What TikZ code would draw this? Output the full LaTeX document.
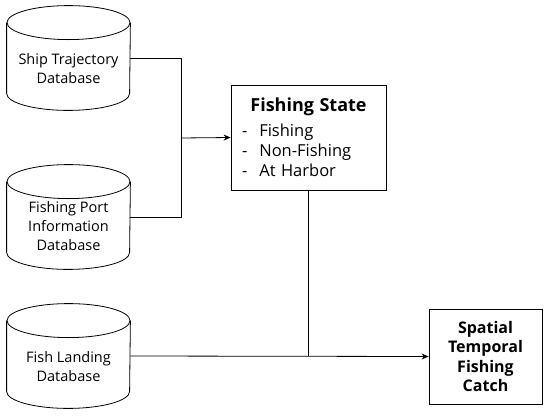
\documentclass[tikz,border=0pt]{standalone}
\usepackage{fontspec}
\setmainfont{Open Sans}
\usetikzlibrary{arrows.meta}

\begin{document}
\begin{tikzpicture}[x=1pt,y=-1pt,>={Stealth[length=7pt,width=6pt]},line width=0.8pt,
    db/.style={minimum width=123pt,minimum height=104pt,inner sep=0pt},
    dbtext/.style={align=center,font=\fontsize{14.5}{19}\selectfont},
    box/.style={draw,rectangle,inner sep=0pt}]
    \useasboundingbox (0,0) rectangle (550,418);
    % databases
    \node[db] (ship) at (68.5,58) {};
    \node[dbtext] (shiptext) at (68.5,69) {Ship Trajectory\\Database};
    \node[db] (port) at (68.5,217) {};
    \node[dbtext] (porttext) at (68.5,226.5) {Fishing Port\\Information\\Database};
    \node[db] (landing) at (68.5,356) {};
    \node[dbtext] (landingtext) at (68.5,366.5) {Fish Landing\\Database};
    \foreach \n in {ship,port,landing} {
        \draw ([yshift=-17pt]\n.north) ellipse[x radius=61.5pt,y radius=17pt];
        \draw ([yshift=-17pt]\n.north west) -- ([yshift=17pt]\n.south west)
            arc[start angle=180,end angle=360,x radius=61.5pt,y radius=17pt]
            -- ([yshift=-17pt]\n.north east);
    }
    % results
    \node[box,minimum width=155pt,minimum height=105pt,text width=133pt,align=left,font=\fontsize{16.5}{20}\selectfont] (state) at (308.5,137.5)
        {\makebox[\linewidth][c]{\fontsize{18}{22}\selectfont\bfseries Fishing State}\\[5pt]
         -\hspace{12pt}Fishing\\ -\hspace{12pt}Non-Fishing\\ -\hspace{12pt}At Harbor};
    \node[box,minimum width=113pt,minimum height=95pt,align=center,font=\fontsize{16}{19.5}\selectfont\bfseries] (catch) at (485.5,356.5)
        {Spatial\\Temporal\\Fishing\\Catch};
    % connectors
    \coordinate (join) at (181,138);
    \draw (ship.east) -| (join);
    \draw (port.east) -| (join);
    \draw[->] (join) -- (state.west);
    \draw[->] (landing.east) -- (catch.west);
    \draw (state.south) -- (state.south |- landing.east);
\end{tikzpicture}
\end{document}
